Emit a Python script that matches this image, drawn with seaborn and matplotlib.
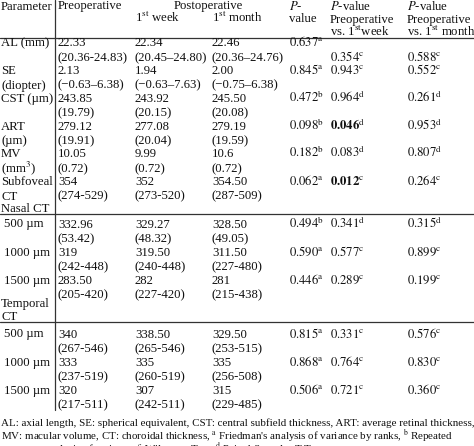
import matplotlib
matplotlib.use("Agg")
import matplotlib.pyplot as plt
import seaborn as sns

sns.set_theme(style="white")
plt.rcParams["font.family"] = ["Liberation Serif", "DejaVu Serif"]
plt.rcParams["mathtext.fontset"] = "stix"

# ---- table data ----
param_labels = [["AL (mm)", ""], ["SE", "(diopter)"], ["CST (\u00b5m)", ""], ["ART", "(\u00b5m)"],
                ["MV", "(mm$^3$)"], ["Subfoveal", "CT"]]
preop = [["22.33", "(20.36-24.83)"], ["2.13", "(\u22120.63\u20136.38)"], ["243.85", "(19.79)"],
         ["279.12", "(19.91)"], ["10.05", "(0.72)"], ["354", "(274-529)"]]
week1 = [["22.34", "(20.45\u201324.80)"], ["1.94", "(\u22120.63\u20137.63)"], ["243.92", "(20.15)"],
         ["277.08", "(20.04)"], ["9.99", "(0.72)"], ["352", "(273-520)"]]
month1 = [["22.46", "(20.36\u201324.76)"], ["2.00", "(\u22120.75\u20136.38)"], ["245.50", "(20.08)"],
          ["279.19", "(19.59)"], ["10.6", "(0.72)"], ["354.50", "(287-509)"]]
p_all = [("0.637", "a"), ("0.845", "a"), ("0.472", "b"), ("0.098", "b"), ("0.182", "b"), ("0.062", "a")]
p_week = [("0.354", "c"), ("0.943", "c"), ("0.964", "d"), ("0.046", "d"), ("0.083", "d"), ("0.012", "c")]
p_month = [("0.588", "c"), ("0.552", "c"), ("0.261", "d"), ("0.953", "d"), ("0.807", "d"), ("0.264", "c")]
# line where the week/month p-values sit (0 = first line, 1 = second)
p_line = [1, 0, 0, 0, 0, 0]
bold_week = [False, False, False, True, False, True]

sub_labels = ["500 \u00b5m", "1000 \u00b5m", "1500 \u00b5m"]
nasal_pre = [["332.96", "(53.42)"], ["319", "(242-448)"], ["283.50", "(205-420)"]]
nasal_w = [["329.27", "(48.32)"], ["319.50", "(240-448)"], ["282", "(227-420)"]]
nasal_m = [["328.50", "(49.05)"], ["311.50", "(227-480)"], ["281", "(215-438)"]]
nasal_p = [("0.494", "b"), ("0.590", "a"), ("0.446", "a")]
nasal_pw = [("0.341", "d"), ("0.577", "c"), ("0.289", "c")]
nasal_pm = [("0.315", "d"), ("0.899", "c"), ("0.199", "c")]

temp_pre = [["340", "(267-546)"], ["333", "(237-519)"], ["320", "(217-511)"]]
temp_w = [["338.50", "(265-546)"], ["335", "(260-519)"], ["307", "(242-511)"]]
temp_m = [["329.50", "(253-515)"], ["335", "(256-508)"], ["315", "(229-485)"]]
temp_p = [("0.815", "a"), ("0.868", "a"), ("0.506", "a")]
temp_pw = [("0.331", "c"), ("0.764", "c"), ("0.721", "c")]
temp_pm = [("0.576", "c"), ("0.830", "c"), ("0.360", "c")]

footnote = [
    "AL: axial length, SE: spherical equivalent, CST: central subfield thickness, ART: average retinal thickness,",
    "MV: macular volume, CT: choroidal thickness, $^{\\mathrm{a}}$ Friedman's analysis of variance by ranks, $^{\\mathrm{b}}$ Repeated",
    "measures analysis of variance, $^{\\mathrm{c}}$ Wilcoxon Test, $^{\\mathrm{d}}$ Paired-Samples T Test",
]

# ---- drawing ----
fig = plt.figure(figsize=(4.74, 4.46), dpi=100)
ax = fig.add_axes([0, 0, 1, 1])
ax.set_xlim(0, 474)
ax.set_ylim(446, 0)
ax.axis("off")

FS = 9.2
col_x = [1, 58, 135, 212, 289, 330, 407]
LH = 14.5
BASE = 3.5  # centre -> baseline offset in pixels


def put(x, y, s, bold=False, fs=FS):
    ax.text(x, y + BASE, s, fontsize=fs, va="baseline", ha="left", color="#111",
            fontweight="bold" if bold else "normal")


def pval(x, y, pv, bold=False):
    v, sup = pv
    if bold:
        s = r"$\mathbf{%s}^{\mathrm{%s}}$" % (v, sup)
    else:
        s = r"$\mathrm{%s}^{\mathrm{%s}}$" % (v, sup)
    put(x, y, s)


# header
put(col_x[0], 6, "Parameter")
put(col_x[1], 6, "Preoperative")
put(174, 6, "Postoperative")
put(col_x[2], 19, r"1$^{\mathrm{st}}$ week")
put(col_x[3], 19, r"1$^{\mathrm{st}}$ month")
put(col_x[4], 6, r"$\it{P}$-")
put(col_x[4], 19, "value")
put(col_x[5], 6, r"$\it{P}$-value")
put(col_x[5], 19, "Preoperative")
put(col_x[5], 32, r"vs. 1$^{\mathrm{st}}$week")
put(col_x[6], 6, r"$\it{P}$-value")
put(col_x[6], 19, "Preoperative")
put(col_x[6], 32, r"vs. 1$^{\mathrm{st}}$ month")

y = 43
for i in range(len(param_labels)):
    for k in range(2):
        put(col_x[0], y + k * LH, param_labels[i][k])
        put(col_x[1], y + k * LH, preop[i][k])
        put(col_x[2], y + k * LH, week1[i][k])
        put(col_x[3], y + k * LH, month1[i][k])
    pval(col_x[4], y, p_all[i])
    pval(col_x[5], y + p_line[i] * LH, p_week[i], bold_week[i])
    pval(col_x[6], y + p_line[i] * LH, p_month[i])
    y += 2 * LH - 1.3

put(col_x[0], 208, "Nasal CT")


def block(y0, pre, w, m, p, pw, pm):
    for i in range(3):
        yy = y0 + i * 2 * LH - i * 0.7
        put(col_x[0] + 3, yy, sub_labels[i])
        for k in range(2):
            put(col_x[1], yy + k * LH, pre[i][k])
            put(col_x[2], yy + k * LH, w[i][k])
            put(col_x[3], yy + k * LH, m[i][k])
        pval(col_x[4], yy, p[i])
        pval(col_x[5], yy, pw[i])
        pval(col_x[6], yy, pm[i])


block(224, nasal_pre, nasal_w, nasal_m, nasal_p, nasal_pw, nasal_pm)
put(col_x[0], 304, "Temporal")
put(col_x[0], 316, "CT")
block(334, temp_pre, temp_w, temp_m, temp_p, temp_pw, temp_pm)

for j, line in enumerate(footnote):
    put(col_x[0], 423 + j * 13, line, fs=7.9)

# rules
ax.plot([55, 55], [0, 410], color="#333", lw=0.9)
for yl in (38, 214, 322):
    ax.plot([0, 474], [yl, yl], color="#333", lw=0.9)

fig.savefig("out.png", dpi=100)
